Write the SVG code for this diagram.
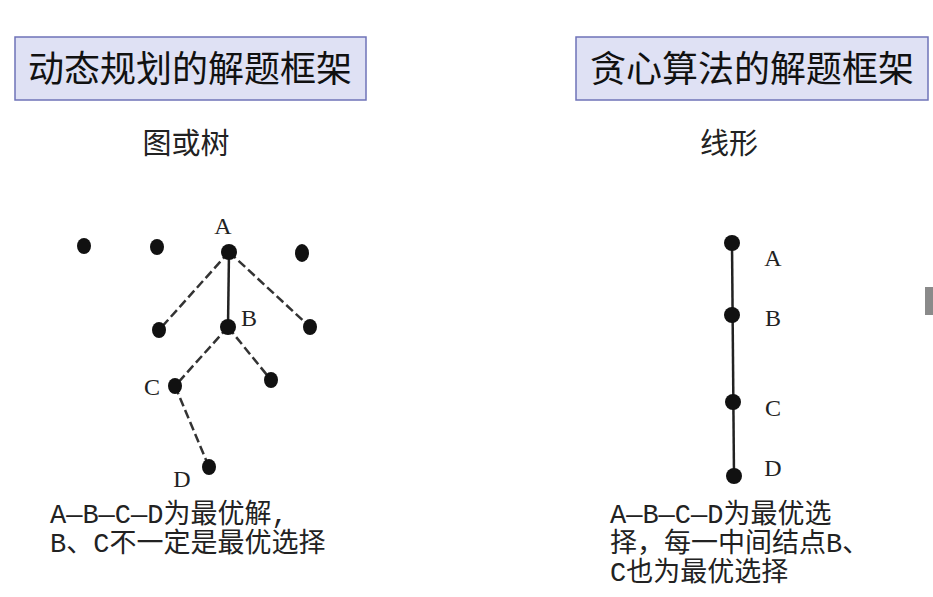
<svg xmlns="http://www.w3.org/2000/svg" width="933" height="597" viewBox="0 0 933 597">
<style>
.box{fill:#dfe1f4;stroke:#6f73b8;stroke-width:1.5}
.title{font-family:"Noto Sans CJK SC",sans-serif;font-size:36px;fill:#111}
.sub{font-family:"Noto Sans CJK SC",sans-serif;font-size:29px;fill:#222}
.lbl{font-family:"Liberation Serif",serif;font-size:24px;fill:#222}
.cap{font-family:"Liberation Mono","Noto Sans CJK SC",monospace;font-size:27px;fill:#222}
.dot{fill:#111}
.solid{stroke:#222;stroke-width:2.5;fill:none}
.dash{stroke:#333;stroke-width:2.5;fill:none;stroke-dasharray:9,4}
</style>
<rect width="933" height="597" fill="#fff"/>
<g id="title-left"><rect class="box" x="15" y="37" width="351" height="63"/><text class="title" x="190" y="82" text-anchor="middle">动态规划的解题框架</text></g>
<g id="title-right"><rect class="box" x="576" y="37" width="352" height="63"/><text class="title" x="752" y="82" text-anchor="middle">贪心算法的解题框架</text></g>
<text class="sub" x="186" y="154" text-anchor="middle">图或树</text>
<text class="sub" x="729" y="154" text-anchor="middle">线形</text>
<g id="connectors">
<line class="solid" x1="229" y1="252" x2="228" y2="327"/>
<line class="dash" x1="229" y1="252" x2="159" y2="330"/>
<line class="dash" x1="229" y1="252" x2="310" y2="327"/>
<line class="dash" x1="228" y1="327" x2="175" y2="386"/>
<line class="dash" x1="228" y1="327" x2="271" y2="380"/>
<line class="dash" x1="175" y1="386" x2="209" y2="467"/>
<line class="solid" x1="732" y1="243" x2="734" y2="476"/>
</g>
<g id="tree-nodes">
<ellipse class="dot" cx="84" cy="246" rx="7" ry="8"/>
<ellipse class="dot" cx="157" cy="247" rx="7" ry="8"/>
<ellipse class="dot" cx="302" cy="253" rx="7" ry="9"/>
<g id="nA"><ellipse class="dot" cx="229" cy="252" rx="8" ry="8"/><text class="lbl" x="223" y="234" text-anchor="middle">A</text></g>
<ellipse class="dot" cx="159" cy="330" rx="7" ry="8"/>
<g id="nB"><ellipse class="dot" cx="228" cy="327" rx="8" ry="8"/><text class="lbl" x="249" y="326" text-anchor="middle">B</text></g>
<ellipse class="dot" cx="310" cy="327" rx="7" ry="8"/>
<g id="nC"><ellipse class="dot" cx="175" cy="386" rx="7" ry="8"/><text class="lbl" x="152" y="395" text-anchor="middle">C</text></g>
<ellipse class="dot" cx="271" cy="380" rx="7" ry="8"/>
<g id="nD"><ellipse class="dot" cx="209" cy="467" rx="7" ry="8"/><text class="lbl" x="182" y="487" text-anchor="middle">D</text></g>
</g>
<g id="line-nodes">
<g id="lA"><ellipse class="dot" cx="732" cy="243" rx="8" ry="8"/><text class="lbl" x="773" y="266" text-anchor="middle">A</text></g>
<g id="lB"><ellipse class="dot" cx="732" cy="315" rx="8" ry="8"/><text class="lbl" x="773" y="326" text-anchor="middle">B</text></g>
<g id="lC"><ellipse class="dot" cx="733" cy="402" rx="8" ry="8"/><text class="lbl" x="773" y="416" text-anchor="middle">C</text></g>
<g id="lD"><ellipse class="dot" cx="734" cy="476" rx="8" ry="8"/><text class="lbl" x="773" y="476" text-anchor="middle">D</text></g>
</g>
<text class="cap" x="50" y="523">A—B—C—D为最优解,</text>
<text class="cap" x="50" y="552">B、C不一定是最优选择</text>
<text class="cap" x="610" y="523">A—B—C—D为最优选</text>
<text class="cap" x="610" y="552">择，每一中间结点B、</text>
<text class="cap" x="610" y="581">C也为最优选择</text>
<rect x="925" y="287" width="8" height="28" fill="#8a8a8a"/>
</svg>
